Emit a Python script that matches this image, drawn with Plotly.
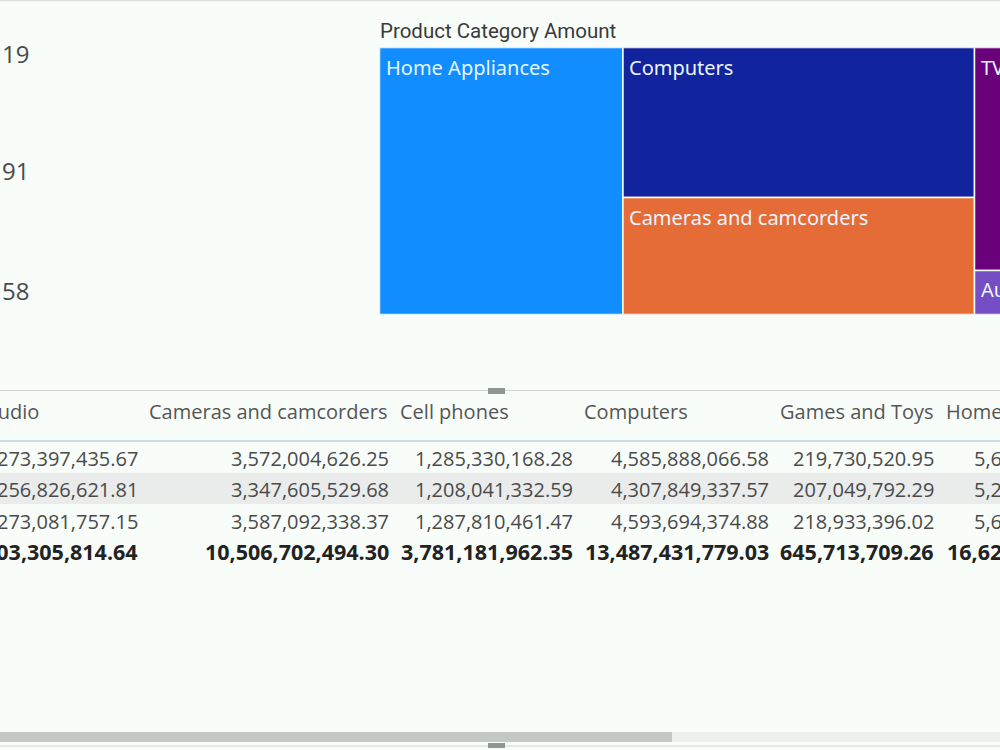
import plotly.graph_objects as go

# treemap values (Home Appliances and TV are estimated from tile sizes)
categories = ["Home Appliances", "Computers", "Cameras and camcorders", "TV and Video", "Audio"]
amounts = [16.62e9, 13487431779.03, 10506702494.30, 4.06e9, 803305814.64]
tile_column = [0, 1, 1, 2, 2]
tile_colors = ["#118DFF", "#12239E", "#E66C37", "#6B007B", "#744EC2"]

# KPI numbers, cut off by the left edge
kpi_labels = ["19", "91", "58"]

# table, the Home Appliances column only shows what fits in the picture
table_headers = ["Audio", "Cameras and camcorders", "Cell phones", "Computers", "Games and Toys", "Home"]
audio_col = ["273,397,435.67", "256,826,621.81", "273,081,757.15", "803,305,814.64"]
cameras_col = ["3,572,004,626.25", "3,347,605,529.68", "3,587,092,338.37", "10,506,702,494.30"]
phones_col = ["1,285,330,168.28", "1,208,041,332.59", "1,287,810,461.47", "3,781,181,962.35"]
computers_col = ["4,585,888,066.58", "4,307,849,337.57", "4,593,694,374.88", "13,487,431,779.03"]
games_col = ["219,730,520.95", "207,049,792.29", "218,933,396.02", "645,713,709.26"]
home_col = ["5,6", "5,2", "5,6", "16,62"]

BG = "#F8FDFA"
W, H = 1000, 750
px_per_unit = 14.65e-9


def px(x):
    return x / W


def py(y):
    return 1 - y / H


# treemap tiles laid out from the amounts: column width is the column total
col_totals = {}
for c, a in zip(tile_column, amounts):
    col_totals[c] = col_totals.get(c, 0) + a

col_start = {}
start = 0
for c in sorted(col_totals):
    col_start[c] = start
    start += col_totals[c]

bar_x, bar_w, bar_base, bar_h = [], [], [], []
label_x, label_y = [], []
used = {}
for c, a in zip(tile_column, amounts):
    h = a / col_totals[c]
    top = 1 - used.get(c, 0)
    used[c] = used.get(c, 0) + h
    bar_x.append(col_start[c] + col_totals[c] / 2)
    bar_w.append(col_totals[c])
    bar_base.append(top - h)
    bar_h.append(h)
    label_x.append(col_start[c])
    label_y.append(top)

fig = go.Figure()
fig.add_trace(go.Bar(x=bar_x, y=bar_h, base=bar_base, width=bar_w, text=categories,
                     textposition="none", hoverinfo="text", cliponaxis=False,
                     marker=dict(color=tile_colors, line=dict(color=BG, width=1.5))))

annotations = []
for name, x, y in zip(categories, label_x, label_y):
    annotations.append(dict(text=name, x=x, y=y, xref="x", yref="y", xanchor="left", yanchor="top",
                            xshift=4, yshift=-4, showarrow=False,
                            font=dict(family="Noto Sans", size=20, color="#E8F6FF")))

annotations.append(dict(text="Product Category Amount", x=px(378), y=py(31), xref="paper", yref="paper",
                        xanchor="left", yanchor="middle", showarrow=False,
                        font=dict(family="Roboto", size=20.5, color="#3A3A3A")))

for label, y in zip(kpi_labels, [54, 171, 290]):
    annotations.append(dict(text=label, x=px(31), y=py(y), xref="paper", yref="paper", xanchor="right",
                            yanchor="middle", showarrow=False,
                            font=dict(family="Open Sans", size=24, color="#4A4A4A")))

for header, x in zip(table_headers, [-17, 147, 398, 582, 778, 944]):
    annotations.append(dict(text=header, x=px(x), y=py(411), xref="paper", yref="paper", xanchor="left",
                            yanchor="middle", showarrow=False,
                            font=dict(family="Open Sans", size=20, color="#555555")))

row_y = [458, 489, 521, 551]
for col, right in zip([audio_col, cameras_col, phones_col, computers_col, games_col],
                      [140, 391, 575, 771, 936]):
    for i, cell in enumerate(col):
        annotations.append(dict(text="<b>" + cell + "</b>" if i == 3 else cell, x=px(right), y=py(row_y[i]),
                                xref="paper", yref="paper", xanchor="right", yanchor="middle", showarrow=False,
                                font=dict(family="Open Sans", size=21.5 if i == 3 else 20,
                                          color="#222222" if i == 3 else "#4A4A4A")))

for i, cell in enumerate(home_col):
    annotations.append(dict(text="<b>" + cell + "</b>" if i == 3 else cell, x=px(945 if i == 3 else 972),
                            y=py(row_y[i]), xref="paper", yref="paper", xanchor="left", yanchor="middle",
                            showarrow=False,
                            font=dict(family="Open Sans", size=21.5 if i == 3 else 20,
                                      color="#222222" if i == 3 else "#4A4A4A")))

shapes = [
    dict(type="rect", xref="paper", yref="paper", x0=0, x1=1, y0=py(504), y1=py(473),
         fillcolor="#E9ECEA", line_width=0, layer="below"),
    dict(type="line", xref="paper", yref="paper", x0=0, x1=1, y0=py(441), y1=py(441),
         line=dict(color="#B5D3E3", width=1.5)),
    dict(type="line", xref="paper", yref="paper", x0=0, x1=1, y0=py(390.5), y1=py(390.5),
         line=dict(color="#CDD3D0", width=1)),
    dict(type="line", xref="paper", yref="paper", x0=0, x1=1, y0=py(0.5), y1=py(0.5),
         line=dict(color="#DDE2DF", width=1.5)),
    dict(type="rect", xref="paper", yref="paper", x0=px(488), x1=px(505), y0=py(394), y1=py(388),
         fillcolor="#8F9795", line_width=0),
    dict(type="rect", xref="paper", yref="paper", x0=0, x1=px(672), y0=py(742), y1=py(732),
         fillcolor="#C5C9C5", line_width=0),
    dict(type="rect", xref="paper", yref="paper", x0=px(672), x1=1, y0=py(742), y1=py(732),
         fillcolor="#EEF0EE", line_width=0),
    dict(type="line", xref="paper", yref="paper", x0=0, x1=1, y0=py(746), y1=py(746),
         line=dict(color="#CDD3D0", width=1)),
    dict(type="rect", xref="paper", yref="paper", x0=px(488), x1=px(505), y0=py(748), y1=py(743),
         fillcolor="#8F9795", line_width=0),
]

fig.update_layout(
    width=W, height=H, margin=dict(l=0, r=0, t=0, b=0),
    paper_bgcolor=BG, plot_bgcolor=BG, showlegend=False,
    annotations=annotations, shapes=shapes,
    xaxis=dict(domain=[px(379.5), 1], range=[0, 620.5 / px_per_unit], visible=False),
    yaxis=dict(domain=[py(314.5), py(47.5)], range=[0, 1], visible=False),
)

# page has a default 8px body margin, drop it so the figure fills the window
fig.write_html("out.html", config=dict(displayModeBar=False),
               post_script="document.body.style.margin='0';document.body.style.overflow='hidden';")
